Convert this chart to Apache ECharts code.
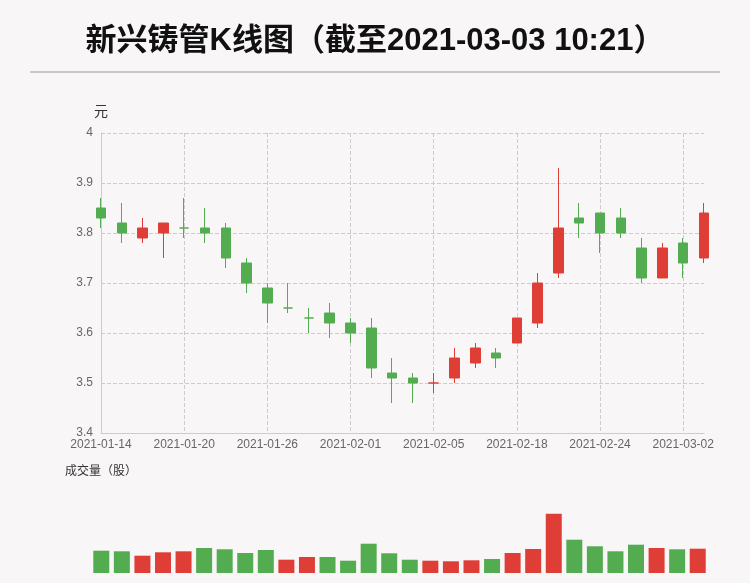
<!DOCTYPE html>
<html>
<head>
<meta charset="utf-8">
<script src="https://cdn.jsdelivr.net/npm/echarts@6/dist/echarts.min.js"></script>
<style>
  html, body { margin: 0; padding: 0; background: #f9f6f7; }
  #chart { width: 750px; height: 583px; }
</style>
</head>
<body>
<div id="chart"></div>
<script>
// 新兴铸管 日K 数据
const dates = [
  '2021-01-14', '2021-01-15', '2021-01-18', '2021-01-19', '2021-01-20',
  '2021-01-21', '2021-01-22', '2021-01-25', '2021-01-26', '2021-01-27',
  '2021-01-28', '2021-01-29', '2021-02-01', '2021-02-02', '2021-02-03',
  '2021-02-04', '2021-02-05', '2021-02-08', '2021-02-09', '2021-02-10',
  '2021-02-18', '2021-02-19', '2021-02-22', '2021-02-23', '2021-02-24',
  '2021-02-25', '2021-02-26', '2021-03-01', '2021-03-02', '2021-03-03'
]
const opens  = [3.85, 3.82, 3.79, 3.80, 3.81, 3.81, 3.81, 3.74, 3.69, 3.65, 3.63, 3.64, 3.62, 3.61, 3.52,
                3.51, 3.50, 3.51, 3.54, 3.56, 3.58, 3.62, 3.72, 3.83, 3.84, 3.83, 3.77, 3.71, 3.78, 3.75]
const closes = [3.83, 3.80, 3.81, 3.82, 3.81, 3.80, 3.75, 3.70, 3.66, 3.65, 3.63, 3.62, 3.60, 3.53, 3.51,
                3.50, 3.50, 3.55, 3.57, 3.55, 3.63, 3.70, 3.81, 3.82, 3.80, 3.80, 3.71, 3.77, 3.74, 3.84]
const lows   = [3.81, 3.78, 3.78, 3.75, 3.79, 3.78, 3.73, 3.68, 3.62, 3.64, 3.60, 3.59, 3.58, 3.51, 3.46,
                3.46, 3.48, 3.50, 3.53, 3.53, 3.58, 3.61, 3.71, 3.79, 3.76, 3.79, 3.70, 3.71, 3.71, 3.74]
const highs  = [3.87, 3.86, 3.83, 3.82, 3.87, 3.85, 3.82, 3.75, 3.70, 3.70, 3.65, 3.66, 3.63, 3.63, 3.55,
                3.52, 3.52, 3.57, 3.58, 3.57, 3.63, 3.72, 3.93, 3.86, 3.84, 3.85, 3.79, 3.78, 3.79, 3.86]
const volumes = [2230000, 2170000, 1730000, 2070000, 2170000, 2500000, 2370000, 2000000, 2300000, 1330000,
                 1600000, 1600000, 1230000, 2930000, 1970000, 1330000, 1230000, 1170000, 1270000, 1400000,
                 2000000, 2400000, 5930000, 3330000, 2670000, 2170000, 2830000, 2500000, 2370000, 2430000]

const UP = '#de3e36'
const DOWN = '#53ad50'

const kData = dates.map((d, i) => [opens[i], closes[i], lows[i], highs[i]])
// 收盘 >= 开盘 记为红（含平盘）
const volData = volumes.map((v, i) => ({
  value: v,
  itemStyle: { color: closes[i] >= opens[i] ? UP : DOWN }
}))

const chart = echarts.init(document.getElementById('chart'))
chart.setOption({
  backgroundColor: '#f9f6f7',
  animation: false,
  textStyle: { fontFamily: "'Liberation Sans', 'Noto Sans CJK SC', sans-serif" },
  title: {
    text: '新兴铸管K线图（截至2021-03-03 10:21）',
    left: 'center', top: 21,
    textStyle: { fontSize: 31, fontWeight: 'bold', color: '#111' }
  },
  graphic: [
    { type: 'line', shape: { x1: 30, y1: 72, x2: 720, y2: 72 }, style: { stroke: '#c8c8c8', lineWidth: 2 } },
    { type: 'text', left: 65, top: 464, style: { text: '成交量（股）', fill: '#333', font: "12px 'Noto Sans CJK SC'" } }
  ],
  grid: [
    { left: 101, right: 46, top: 133, height: 300 },
    { left: 91, right: 42, top: 483, height: 90 }
  ],
  xAxis: [
    {
      type: 'category', gridIndex: 0, data: dates, boundaryGap: false,
      axisLine: { lineStyle: { color: '#ccc' } },
      axisTick: { show: false },
      axisLabel: { interval: 3, color: '#666', fontSize: 12, margin: 6 },
      splitLine: { show: true, interval: 3, lineStyle: { color: '#ccc', type: 'dashed' } }
    },
    {
      type: 'category', gridIndex: 1, data: dates,
      axisLine: { show: false }, axisTick: { show: false }, axisLabel: { show: false }
    }
  ],
  yAxis: [
    {
      type: 'value', gridIndex: 0, min: 3.4, max: 4, interval: 0.1,
      name: '元', nameGap: 15,
      nameTextStyle: { color: '#333', fontSize: 14, fontFamily: 'Noto Sans CJK SC' },
      axisLine: { show: true, lineStyle: { color: '#ccc' } },
      axisTick: { show: false },
      axisLabel: { color: '#666', fontSize: 12, margin: 8 },
      splitLine: { lineStyle: { color: '#ccc', type: 'dashed' } }
    },
    {
      type: 'value', gridIndex: 1, min: 0, max: 9000000,
      axisLine: { show: false }, axisTick: { show: false }, axisLabel: { show: false },
      splitLine: { show: false }
    }
  ],
  series: [
    {
      name: 'K线', type: 'candlestick', xAxisIndex: 0, yAxisIndex: 0,
      data: kData, barWidth: 10,
      itemStyle: { color: UP, color0: DOWN, borderColor: UP, borderColor0: DOWN, borderWidth: 1 }
    },
    {
      name: '成交量', type: 'bar', xAxisIndex: 1, yAxisIndex: 1,
      data: volData, barWidth: 16
    }
  ]
})
</script>
</body>
</html>
